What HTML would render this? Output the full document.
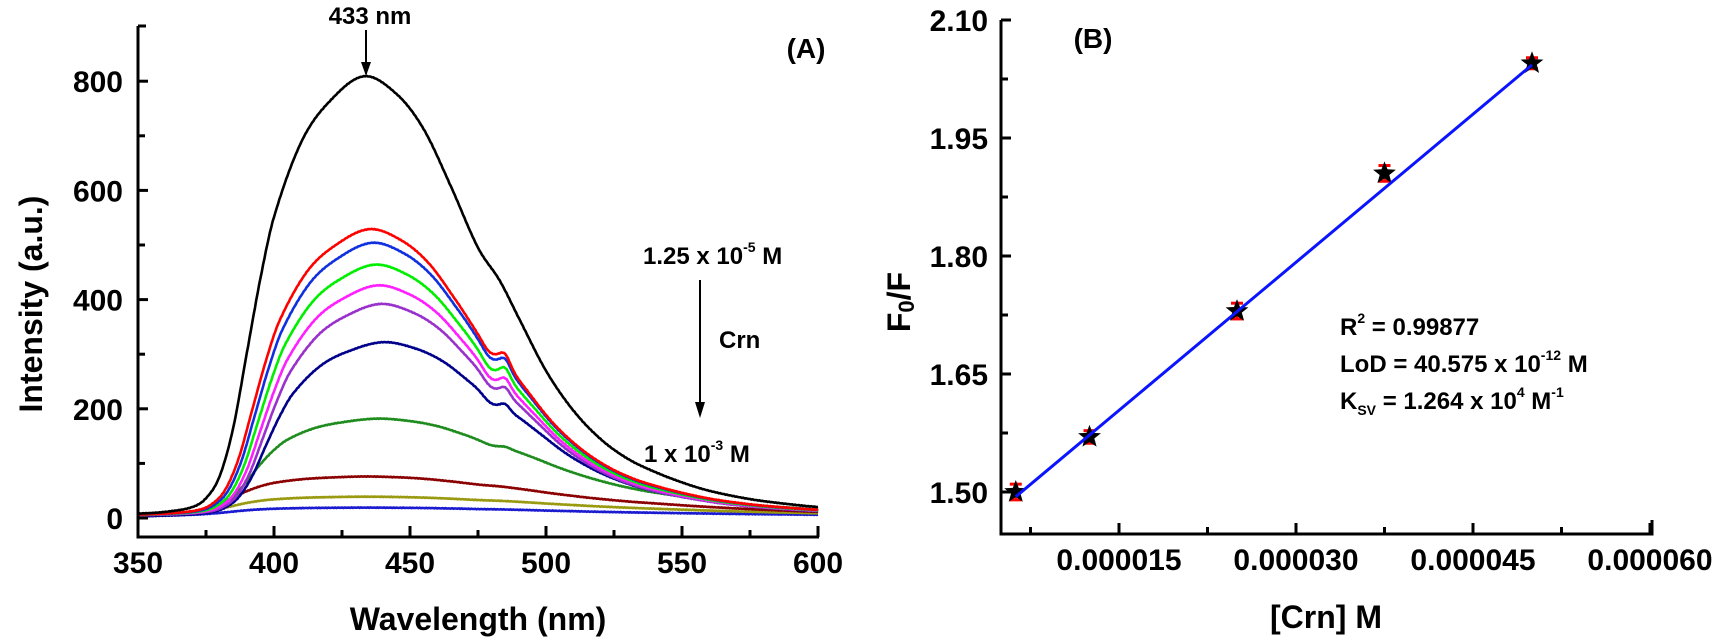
<!DOCTYPE html>
<html><head><meta charset="utf-8">
<style>
html,body{margin:0;padding:0;background:#fff;}
svg{display:block;font-family:"Liberation Sans",Arial,sans-serif;font-weight:bold;}
</style></head>
<body>
<svg id="s" width="1720" height="640" viewBox="0 0 1720 640" xmlns="http://www.w3.org/2000/svg">
<g id="A"></g>
<g id="B"></g>
<text x="370" y="24" font-size="24" text-anchor="middle">433 nm</text>
<line x1="366" y1="30" x2="366" y2="74" stroke="#000" stroke-width="2"/>
<path d="M361,62 L366,76 L371,62 Z" fill="#000"/>
<text x="806" y="58" font-size="28" text-anchor="middle">(A)</text>
<text x="643" y="264" font-size="24">1.25 x 10<tspan font-size="14" dy="-12">-5</tspan><tspan dy="12"> M</tspan></text>
<line x1="700" y1="280" x2="700" y2="410" stroke="#000" stroke-width="2"/>
<path d="M695,402 L700,418 L705,402 Z" fill="#000"/>
<text x="719" y="348" font-size="24">Crn</text>
<text x="644" y="462" font-size="24">1 x 10<tspan font-size="14" dy="-12">-3</tspan><tspan dy="12"> M</tspan></text>
<text x="478" y="630" font-size="32" text-anchor="middle">Wavelength (nm)</text>
<text transform="translate(42,304) rotate(-90)" font-size="32" text-anchor="middle">Intensity (a.u.)</text>
<text x="1093" y="48" font-size="28" text-anchor="middle">(B)</text>
<text x="1340" y="335" font-size="24">R<tspan font-size="14" dy="-12">2</tspan><tspan dy="12"> = 0.99877</tspan></text>
<text x="1340" y="372" font-size="24">LoD = 40.575 x 10<tspan font-size="14" dy="-12">-12</tspan><tspan dy="12"> M</tspan></text>
<text x="1340" y="409" font-size="24">K<tspan font-size="14" dy="6">SV</tspan><tspan dy="-6"> = 1.264 x 10</tspan><tspan font-size="14" dy="-12">4</tspan><tspan dy="12"> M</tspan><tspan font-size="14" dy="-12">-1</tspan></text>
<text x="1326" y="628" font-size="32" text-anchor="middle">[Crn] M</text>
<text transform="translate(910,302) rotate(-90)" font-size="32" text-anchor="middle">F<tspan font-size="22" dy="4">0</tspan><tspan dy="-4">/F</tspan></text>
</svg>
<script>
var NS="http://www.w3.org/2000/svg";
function el(p,t,a,txt){var e=document.createElementNS(NS,t);for(var k in a)e.setAttribute(k,a[k]);if(txt!==undefined)e.textContent=txt;p.appendChild(e);return e;}
var A=document.getElementById('A'),B=document.getElementById('B');
function ax(w){return 138+(w-350)*136/50;}
function ay(v){return 518-v*0.546;}
var prof=[[340,0.003],[350,0.005],[360,0.009],[370,0.02],[375,0.04],[380,0.09],[385,0.2],[390,0.37],[395,0.54],[400,0.68],[410,0.85],[420,0.94],[433,1],[445,0.96],[455,0.88],[465,0.75],[475,0.61],[483,0.535],[490,0.45],[500,0.33],[510,0.24],[520,0.175],[530,0.13],[540,0.1],[550,0.076],[560,0.057],[575,0.038],[590,0.026],[600,0.02],[610,0.016]];
function P(w){for(var i=1;i<prof.length-2;i++){if(w<=prof[i+1][0])break;}
var p0=prof[i-1],p1=prof[i],p2=prof[i+1],p3=prof[i+2];var t=(w-p1[0])/(p2[0]-p1[0]);
var m1=(p2[1]-p0[1])/(p2[0]-p0[0])*(p2[0]-p1[0]),m2=(p3[1]-p1[1])/(p3[0]-p1[0])*(p2[0]-p1[0]);
var t2=t*t,t3=t2*t;return (2*t3-3*t2+1)*p1[1]+(t3-2*t2+t)*m1+(-2*t3+3*t2)*p2[1]+(t3-t2)*m2;}
var curves=[["#1a1ad0",15,0,0,0.3],["#9a9a10",35,0,0,0.3],["#8b0000",72,0,0,0.4],["#1e8c1e",178,5,0.015,0.6],["#00008b",318,7,0.035,0.9],["#9932cc",388,6,0.035,1],["#ff20ff",422,5,0.035,1],["#00ee00",460,4,0.035,1],["#1030e0",500,3,0.03,1],["#ff0000",525,2,0.03,1],["#000000",805,0,0,1]];
curves.forEach(function(c){var d="";var seed=c[1];
for(var w=350;w<=600;w+=0.5){var v=P(w-c[2]);
if(c[4]<1){v=Math.pow(Math.max(v,0.001),c[4]);var b=Math.pow(0.005,c[4]);v=(v-b)/(1-b);}
v+=c[3]*Math.exp(-Math.pow((w-485)/2.5,2))-c[3]*0.5*Math.exp(-Math.pow((w-479)/3,2));
var y=v*c[1]+4+(Math.sin(w*7.3+seed)*0.5);
d+=(d?"L":"M")+ax(w).toFixed(1)+","+ay(y).toFixed(1);}
el(A,'path',{d:d,fill:'none',stroke:c[0],'stroke-width':2.6,'stroke-linejoin':'round'});});
el(A,'path',{d:"M138,26 L138,537 L819,537",fill:'none',stroke:'#000','stroke-width':3});
el(A,'line',{x1:138,y1:26,x2:146,y2:26,stroke:'#000','stroke-width':3});
for(var v=0;v<=800;v+=100){var y=ay(v),maj=v%200==0;el(A,'line',{x1:138,y1:y,x2:138+(maj?10:7),y2:y,stroke:'#000','stroke-width':3});if(maj)el(A,'text',{x:123,y:y+11,'font-size':30,'text-anchor':'end'},String(v));}
for(var w=350;w<=600;w+=25){var x=ax(w),maj=w%50==0;el(A,'line',{x1:x,y1:537,x2:x,y2:537-(maj?11:7),stroke:'#000','stroke-width':3});if(maj)el(A,'text',{x:x,y:573,'font-size':30,'text-anchor':'middle'},String(w));}
function bx(c){return 942+c*177/15;}
function by(v){return 20+(2.10-v)*118/0.15;}
el(B,'path',{d:"M1001,20 L1001,534 L1652,534 L1652,520",fill:'none',stroke:'#000','stroke-width':3});
el(B,'line',{x1:1001,y1:20,x2:1010,y2:20,stroke:'#000','stroke-width':3});
for(var i=0;i<=8;i++){var v=2.10-i*0.075,y=by(v),maj=i%2==0;el(B,'line',{x1:1001,y1:y,x2:1001+(maj?10:7),y2:y,stroke:'#000','stroke-width':3});if(maj)el(B,'text',{x:988,y:y+11,'font-size':30,'text-anchor':'end'},v.toFixed(2));}
var labs={15:"0.000015",30:"0.000030",45:"0.000045",60:"0.000060"};
for(var c=7.5;c<=60;c+=7.5){var x=bx(c),maj=c%15==0;el(B,'line',{x1:x,y1:534,x2:x,y2:534-(maj?11:7),stroke:'#000','stroke-width':3});if(maj)el(B,'text',{x:x,y:570,'font-size':30,'text-anchor':'middle'},labs[c]);}
var pts=[[6.25,1.50,0.01],[12.5,1.57,0.008],[25,1.73,0.01],[37.5,1.905,0.01],[50,2.045,0.007]];
function star(cx,cy,r){var d="";for(var i=0;i<10;i++){var a=-Math.PI/2+i*Math.PI/5,rr=i%2?r*0.42:r;d+=(i?"L":"M")+(cx+rr*Math.cos(a)).toFixed(1)+","+(cy+rr*Math.sin(a)).toFixed(1);}return d+"Z";}
pts.forEach(function(p){var x=bx(p[0]),y=by(p[1]),t=by(p[1]+p[2]),b=by(p[1]-p[2]);
el(B,'line',{x1:x,y1:t,x2:x,y2:b,stroke:'#f00','stroke-width':2.5});
el(B,'line',{x1:x-6,y1:t,x2:x+6,y2:t,stroke:'#f00','stroke-width':3});
el(B,'line',{x1:x-6,y1:b,x2:x+6,y2:b,stroke:'#f00','stroke-width':3});
el(B,'path',{d:star(x,y,12),fill:'#000'});});
el(B,'line',{x1:bx(6.25),y1:by(1.494),x2:bx(50),y2:by(2.043),stroke:'#0a14ff','stroke-width':3});
</script>
</body></html>
